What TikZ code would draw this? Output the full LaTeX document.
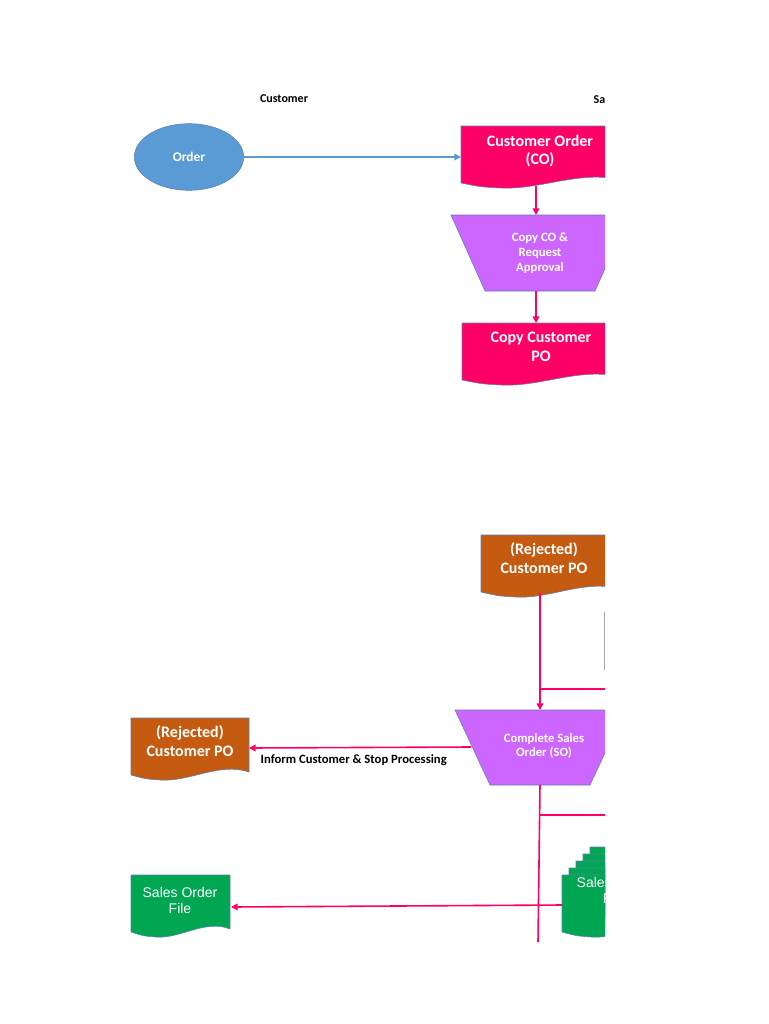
\documentclass[tikz,border=0pt]{standalone}
\usepackage{fontspec}
\setmainfont{Carlito}
\newfontfamily\arialf{Liberation Sans}
\usetikzlibrary{shapes.geometric,arrows.meta}
\definecolor{pinkc}{HTML}{FF0066}
\definecolor{purp}{HTML}{CC66FF}
\definecolor{brown}{HTML}{C55A11}
\definecolor{grn}{HTML}{00A651}
\definecolor{blu}{HTML}{5B9BD5}
\definecolor{edge}{HTML}{5B7FB5}
\tikzset{
 conn/.style={draw=pinkc,line width=1.2pt},
 arr/.style={conn,-{Triangle[length=5pt,width=5pt]}},
 lbl/.style={font=\bfseries\fontsize{12}{14}\selectfont,text=white,align=center},
 plbl/.style={font=\bfseries\fontsize{9.5}{11}\selectfont,text=white,align=center},
 glbl/.style={font=\arialf\fontsize{10.5}{12}\selectfont,text=white,align=center},
}
\newcommand{\docpath}[5]{% x1 y1 x2 y2 color
 \path[fill=#5,draw=edge,line width=0.4pt] (#1,#2) -- (#3,#2) -- (#3,#4-6)
  .. controls ({#3-(#3-#1)/4},{#4-16}) and ({#1+(#3-#1)/2},{#4+4}) .. ({#1+(#3-#1)/4},{#4+2})
  .. controls ({#1+(#3-#1)/8},{#4+1}) .. (#1,#4-3) -- cycle;}
\begin{document}
\begin{tikzpicture}[x=0.75pt,y=-0.75pt]
\useasboundingbox (0,0) rectangle (768,1024);
\fill[white] (0,0) rectangle (768,1024);
\begin{scope}
\clip (0,0) rectangle (605,1024);
\node[font=\bfseries\fontsize{9}{10}\selectfont] (hc) at (284,99) {Customer};
\node[font=\bfseries\fontsize{9}{10}\selectfont,anchor=west] (hs) at (589,99) {Sales};
% Order
\node[ellipse,fill=blu,draw=edge,minimum width=82,minimum height=50,text=white,font=\bfseries\fontsize{10}{12}\selectfont] (order) at (189,157) {Order};
% Customer order doc
\docpath{461}{126}{620}{186}{pinkc}
\node[lbl] (co) at (540,151) {Customer Order\\(CO)};
\coordinate (coL) at (461,157);
\coordinate (coB) at (536,186);
\draw[draw=blu,line width=1pt,-{Triangle[length=5pt,width=5pt]}] (order.east) -- (coL);
% trapezoid 1
\path[fill=purp,draw=edge,line width=0.4pt] (451,215) -- (629,215) -- (595,291) -- (485,291) -- cycle;
\node[plbl] (t1) at (540,253) {Copy CO \&\\Request\\Approval};
\coordinate (t1T) at (536,215);
\coordinate (t1B) at (536,291);
\draw[arr] (coB) -- (t1T);
% copy customer PO
\docpath{462}{323}{620}{383}{pinkc}
\node[lbl] (cp) at (541,347) {Copy Customer\\PO};
\coordinate (cpT) at (536,323);
\draw[arr] (t1B) -- (cpT);
% rejected PO
\docpath{481}{535}{620}{595}{brown}
\node[lbl] (rp) at (544,558) {(Rejected)\\Customer PO};
\coordinate (rpB) at (540,593);
\coordinate (t2T) at (540,710);
\coordinate (j1) at (540,689);
\coordinate (j1r) at (606,689);
\draw[arr] (rpB) -- (t2T);
\draw[conn] (j1) -- (j1r);
\draw[gray!70,line width=0.8pt] (604.5,612) -- (604.5,670);
% trapezoid 2
\path[fill=purp,draw=edge,line width=0.4pt] (455,710) -- (625,710) -- (590,785) -- (490,785) -- cycle;
\node[plbl] (t2) at (544,746) {Complete Sales\\Order (SO)};
\coordinate (t2L) at (471,747);
\coordinate (t2B) at (540,785);
% left rejected
\docpath{131}{718}{249}{778}{brown}
\node[lbl] (rl) at (190,741) {(Rejected)\\Customer PO};
\coordinate (rlR) at (249,748);
\draw[arr] (t2L) -- (rlR);
\node[font=\bfseries\fontsize{9.5}{11}\selectfont,anchor=west] (inf) at (256,760) {Inform Customer \& Stop Processing};
% lines down
\coordinate (bot) at (538,942);
\coordinate (j2) at (540,815);
\coordinate (j2r) at (606,815);
\draw[conn] (t2B) -- (bot);
\draw[conn] (j2) -- (j2r);
% stacked docs
\foreach \k in {4,3,2,1} {
 \docpath{562+7*\k}{875-7*\k}{680+7*\k}{935-7*\k}{grn}
}
\docpath{562}{875}{680}{935}{grn}
\node[glbl,anchor=west] (sf) at (572,890) {Sales Order\\File};
% left green
\docpath{131}{875}{230}{935}{grn}
\node[glbl] (sl) at (180,900) {Sales Order\\File};
\coordinate (sfL) at (562,905);
\coordinate (slR) at (231,907);
\draw[arr] (sfL) -- (slR);
\end{scope}
\end{tikzpicture}
\end{document}
